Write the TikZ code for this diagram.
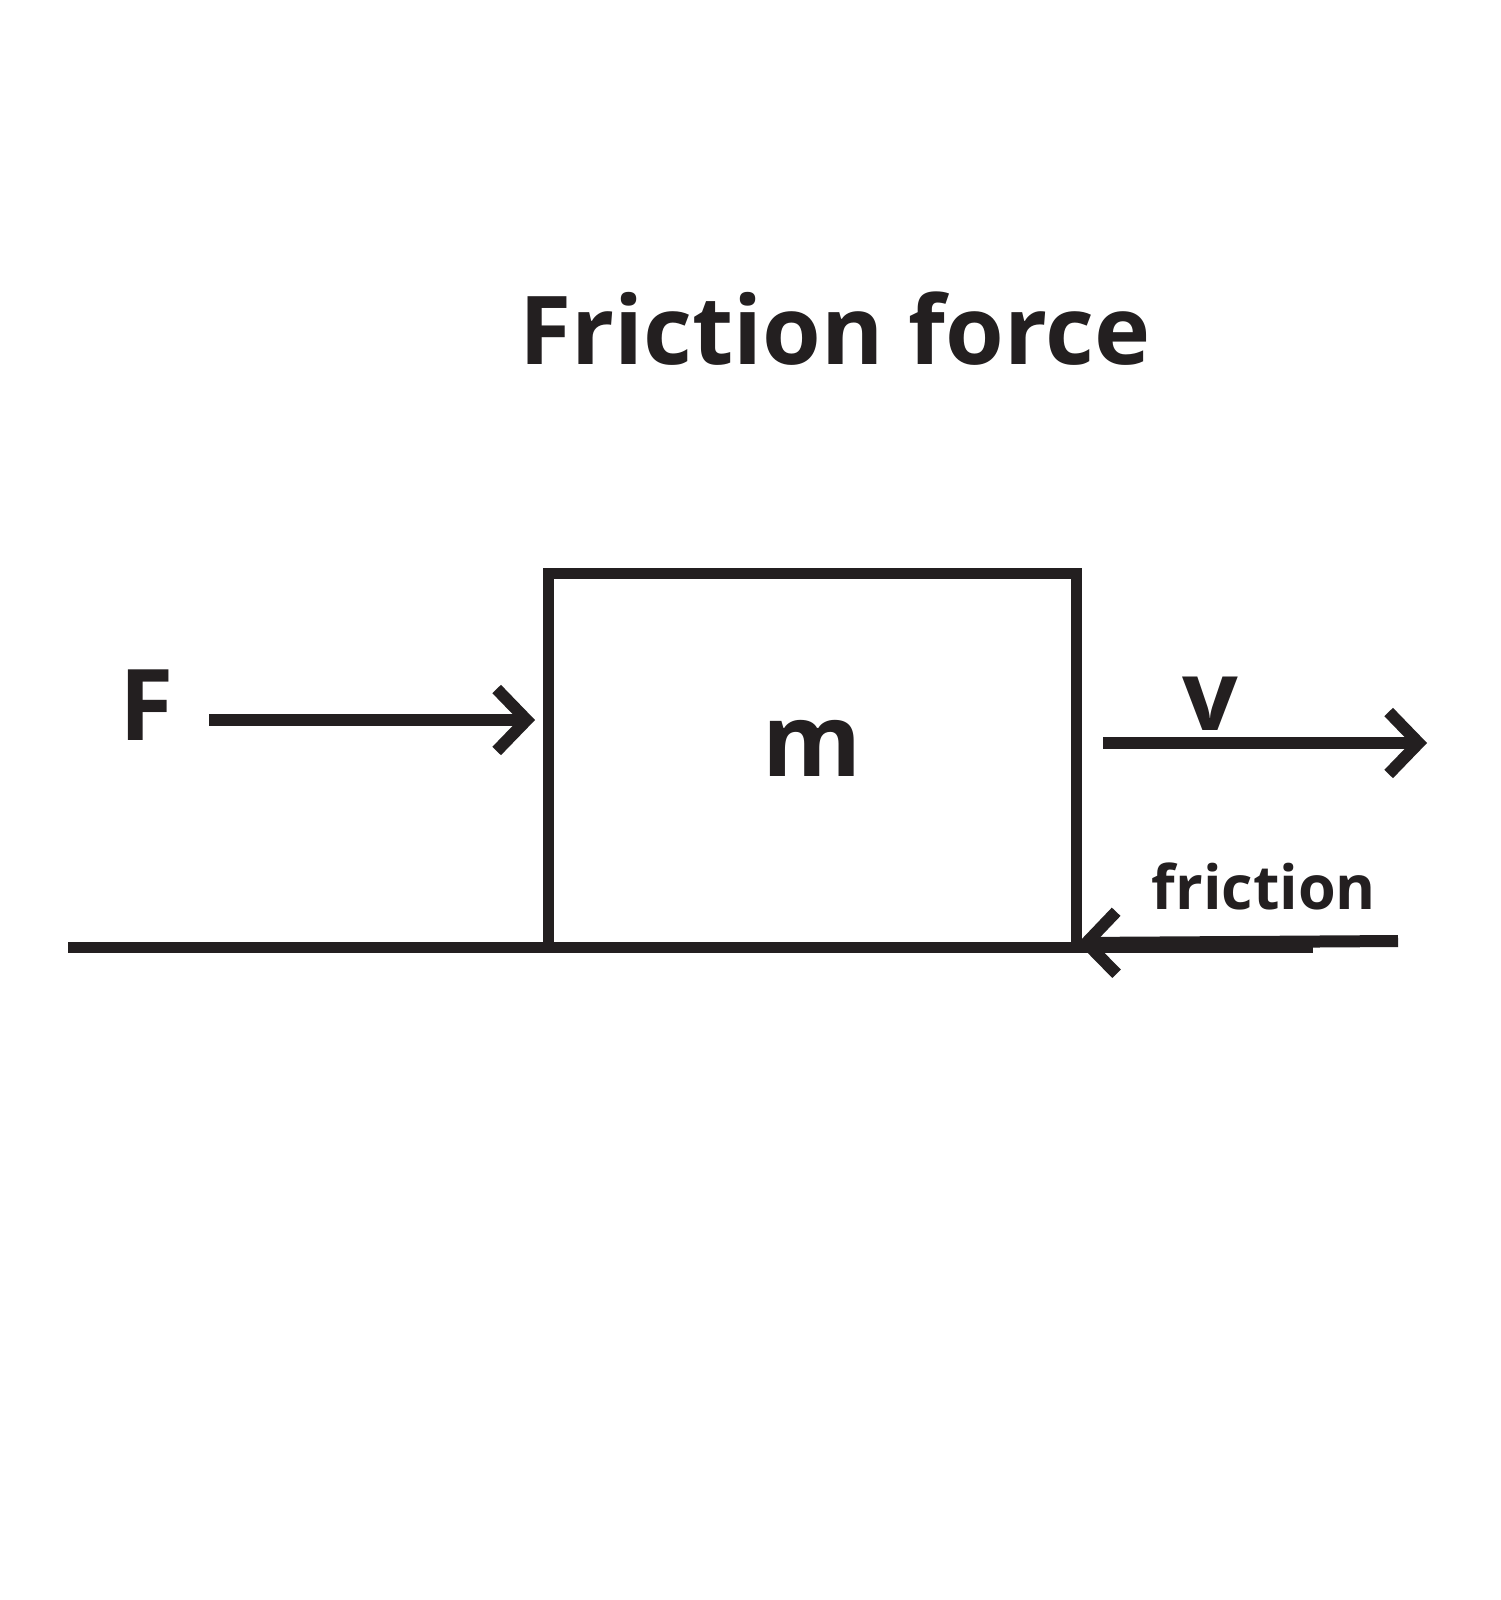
\documentclass[tikz,border=0pt]{standalone}
\usepackage{fontspec}
\setmainfont{Open Sans}
\usetikzlibrary{arrows.meta}
\definecolor{ink}{HTML}{231F20}
\tikzset{
  lbl/.style={inner sep=0pt, anchor=base, text=ink, font=\bfseries},
  force/.style={draw=ink, line width=12pt, -{Straight Barb[length=30pt,width=62pt,line width=12pt]}},
  body/.style={draw=ink, line width=11pt, rectangle, minimum width=528pt, minimum height=374pt, inner sep=0pt},
}
\begin{document}
\begin{tikzpicture}[x=1pt,y=-1pt]
\useasboundingbox[fill=white] (0,0) rectangle (1500,1600);
\node[lbl, font=\bfseries\fontsize{95}{110}\selectfont] (title) at (835,364) {Friction force};
% ground
\coordinate (g1) at (68,947);
\coordinate (g2) at (1313,947);
\draw[draw=ink, line width=11pt] (g1) -- (g2);
% block
\node[body] (box) at (812,760) {};
\node[lbl, font=\bfseries\fontsize{101}{120}\selectfont] (m) at (812,776) {m};
% applied force
\node[lbl, anchor=base west, font=\bfseries\fontsize{99}{110}\selectfont] (F) at (119,740) {F};
\coordinate (f1) at (209,720);
\coordinate (f2) at (535,720);
\draw[force] (f1) -- (f2);
% velocity
\node[lbl, font=\bfseries\fontsize{98}{110}\selectfont] (v) at (1210,730) {v};
\coordinate (v1) at (1103,743);
\coordinate (v2) at (1427,743);
\draw[force] (v1) -- (v2);
% friction
\node[lbl, font=\bfseries\fontsize{61}{70}\selectfont] (fr) at (1264,909) {friction};
\coordinate (r1) at (1398,941);
\coordinate (r2) at (1078,943);
\draw[force] (r1) -- (r2);
\end{tikzpicture}
\end{document}
